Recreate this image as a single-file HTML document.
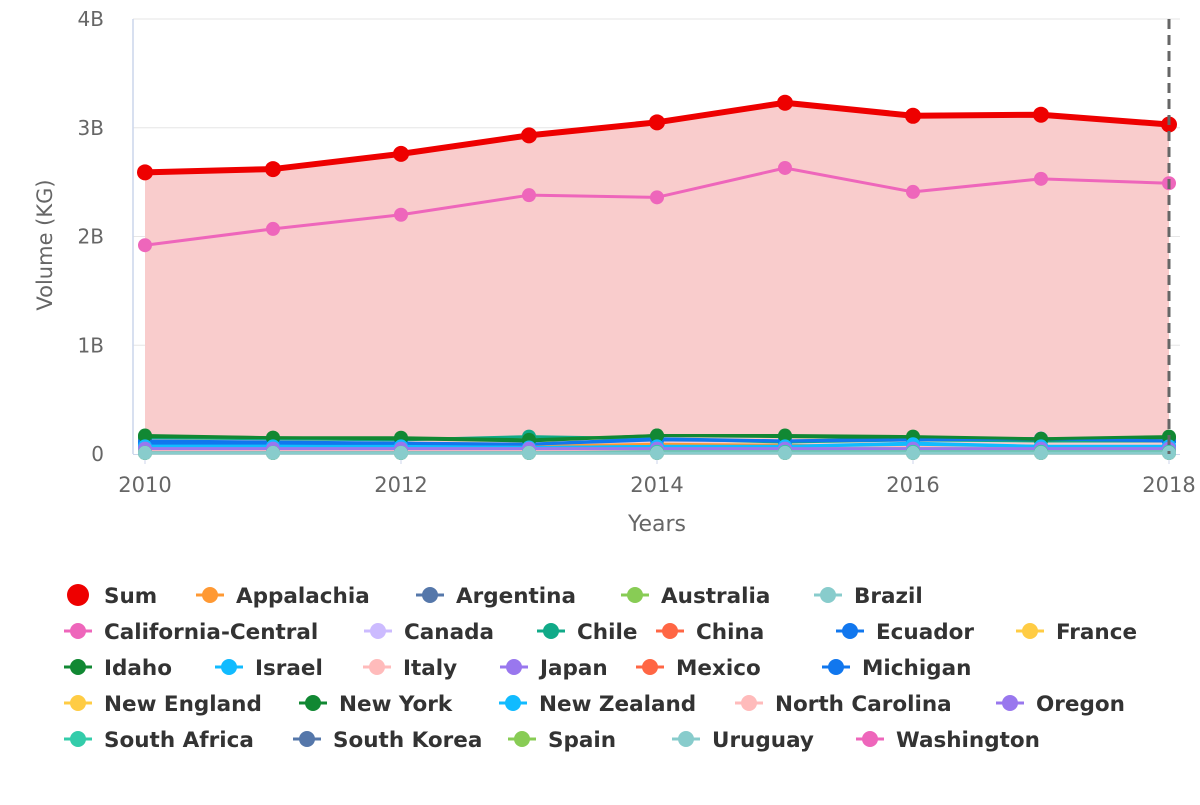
<!DOCTYPE html>
<html><head><meta charset="utf-8"><style>
body{margin:0;background:#fff;width:1200px;height:800px;overflow:hidden}
svg{font-family:"DejaVu Sans","Liberation Sans",sans-serif}
</style></head><body>
<svg id="c" width="1200" height="800"></svg>
<script>
const years=[2010,2011,2012,2013,2014,2015,2016,2017,2018];
const yTicks=[0,1,2,3,4];
const yTickLabels=["0","1B","2B","3B","4B"];
const xTicks=[2010,2012,2014,2016,2018];
const sumValues=[2.59,2.62,2.76,2.93,3.05,3.23,3.11,3.12,3.03];
const seriesNames=["Appalachia","Argentina","Australia","Brazil","California-Central","Canada","Chile","China","Ecuador","France","Idaho","Israel","Italy","Japan","Mexico","Michigan","New England","New York","New Zealand","North Carolina","Oregon","South Africa","South Korea","Spain","Uruguay","Washington"];
const seriesColors=["#ff9933","#5577aa","#88cc55","#88cccc","#ee66bb","#ccbbff","#11aa88","#ff6644","#1177ee","#ffcc44","#118833","#11bbff","#ffbbbb","#9977ee","#ff6644","#1177ee","#ffcc44","#118833","#11bbff","#ffbbbb","#9977ee","#33ccaa","#5577aa","#88cc55","#88cccc","#ee66bb"];
const seriesValues=[
[0.06,0.06,0.06,0.07,0.09,0.08,0.06,0.06,0.06],
[0.01,0.01,0.01,0.01,0.01,0.01,0.01,0.01,0.01],
[0.01,0.01,0.01,0.01,0.01,0.01,0.01,0.01,0.01],
[0.01,0.01,0.01,0.01,0.01,0.01,0.01,0.01,0.01],
[0.03,0.03,0.03,0.03,0.03,0.03,0.03,0.03,0.03],
[0.02,0.02,0.02,0.02,0.02,0.02,0.02,0.02,0.02],
[0.15,0.14,0.13,0.16,0.14,0.11,0.13,0.12,0.12],
[0.05,0.05,0.05,0.05,0.05,0.05,0.05,0.05,0.05],
[0.12,0.11,0.1,0.09,0.14,0.12,0.14,0.14,0.12],
[0.05,0.05,0.05,0.05,0.05,0.05,0.05,0.05,0.05],
[0.16,0.15,0.14,0.12,0.17,0.16,0.15,0.13,0.15],
[0.08,0.08,0.07,0.06,0.07,0.07,0.1,0.07,0.07],
[0.06,0.06,0.05,0.05,0.06,0.06,0.06,0.06,0.04],
[0.05,0.05,0.05,0.05,0.05,0.05,0.05,0.05,0.05],
[0.04,0.04,0.04,0.04,0.04,0.04,0.04,0.04,0.04],
[0.1,0.1,0.09,0.09,0.13,0.12,0.13,0.14,0.12],
[0.05,0.05,0.05,0.05,0.05,0.05,0.05,0.05,0.05],
[0.17,0.15,0.15,0.13,0.17,0.17,0.16,0.14,0.16],
[0.07,0.07,0.07,0.06,0.07,0.07,0.09,0.07,0.07],
[0.04,0.04,0.04,0.04,0.04,0.04,0.04,0.04,0.03],
[0.05,0.05,0.05,0.05,0.05,0.05,0.05,0.05,0.05],
[0.01,0.01,0.01,0.01,0.02,0.02,0.02,0.02,0.02],
[0.01,0.01,0.01,0.01,0.01,0.01,0.01,0.01,0.01],
[0.01,0.01,0.01,0.01,0.01,0.01,0.01,0.01,0.01],
[0.01,0.01,0.01,0.01,0.01,0.01,0.01,0.01,0.01],
[1.92,2.07,2.2,2.38,2.36,2.63,2.41,2.53,2.49]
];
const legendRows=[["Sum","Appalachia","Argentina","Australia","Brazil"],["California-Central","Canada","Chile","China","Ecuador","France"],["Idaho","Israel","Italy","Japan","Mexico","Michigan"],["New England","New York","New Zealand","North Carolina","Oregon"],["South Africa","South Korea","Spain","Uruguay","Washington"]];
const legendX=[[78,210,430,635,828],[78,378,551,670,850,1030],[78,229,377,514,650,836],[78,313,513,749,1010],[78,307,522,686,870]];

const NS="http://www.w3.org/2000/svg";
const svg=document.getElementById('c');
function el(t,a,p){const e=document.createElementNS(NS,t);for(const k in a)e.setAttribute(k,a[k]);(p||svg).appendChild(e);return e;}
const X=y=>145+(y-2010)*128;
const Y=v=>454-v*108.75;
const slug=s=>s.toLowerCase().replace(/[^a-z]+/g,'-');

yTicks.forEach((t,i)=>{
  if(t>0){const g=el('line',{x1:133,x2:1180,y1:Y(t),y2:Y(t),stroke:'#e6e6e6','stroke-width':1});
  
  }
  const tx=el('text',{x:104,y:Y(t)+7,'text-anchor':'end','font-size':20,fill:'#666'});tx.textContent=yTickLabels[i];
  
  
});
let d='M'+X(years[0])+','+Y(0);
years.forEach((y,i)=>d+='L'+X(y)+','+Y(sumValues[i]));
d+='L'+X(years[years.length-1])+','+Y(0)+'Z';
const area=el('path',{d:d,fill:'#f9cccc'});


const ya=el('line',{x1:133,x2:133,y1:19,y2:454,stroke:'#ccd6eb','stroke-width':1.5});


const xa=el('line',{x1:133,x2:1180,y1:454.5,y2:454.5,stroke:'#ccd6eb','stroke-width':1});


xTicks.forEach(t=>{
  el('line',{x1:X(t),x2:X(t),y1:454,y2:464,stroke:'#ccd6eb'});
  const tx=el('text',{x:X(t),y:492,'text-anchor':'middle','font-size':21,fill:'#666'});tx.textContent=t;
  
  
});
const yt=el('text',{x:0,y:0,transform:'translate(52,245) rotate(-90)','text-anchor':'middle','font-size':21,fill:'#666'});yt.textContent='Volume (KG)';


const xt=el('text',{x:657,y:531,'text-anchor':'middle','font-size':22,fill:'#666'});xt.textContent='Years';



function drawLine(vals,color,w,r,name){
  const g=el('g',{});
  
  
  el('path',{d:vals.map((v,i)=>(i?'L':'M')+X(years[i])+','+Y(v)).join(''),fill:'none',stroke:color,'stroke-width':w,'stroke-linejoin':'round'},g);
  vals.forEach((v,i)=>{const c=el('circle',{cx:X(years[i]),cy:Y(v),r:r,fill:color},g);
  
  });
}
seriesNames.forEach((n,i)=>{ if(n!=="Washington") drawLine(seriesValues[i],seriesColors[i],3,7,n); });
drawLine(seriesValues[25],seriesColors[25],3,7,"Washington");
drawLine(sumValues,'#ee0000',6,8,"Sum");
const dl=el('line',{x1:1169,x2:1169,y1:19,y2:454,stroke:'#666','stroke-width':3,'stroke-dasharray':'10,6'});



legendRows.forEach((row,ri)=>{
  const y=595+ri*36;
  row.forEach((n,ci)=>{
    const x=legendX[ri][ci];
    const g=el('g',{});
    
    
    const col=n==='Sum'?'#ee0000':seriesColors[seriesNames.indexOf(n)];
    if(n==='Sum'){el('circle',{cx:x,cy:y,r:11,fill:col},g);}
    else{el('line',{x1:x-14,x2:x+14,y1:y,y2:y,stroke:col,'stroke-width':3},g);el('circle',{cx:x,cy:y,r:8,fill:col},g);}
    const t=el('text',{x:x+26,y:y+8,'font-size':21.5,'font-weight':'bold',fill:'#333'},g);t.textContent=n;
  });
});
</script>
</body></html>
